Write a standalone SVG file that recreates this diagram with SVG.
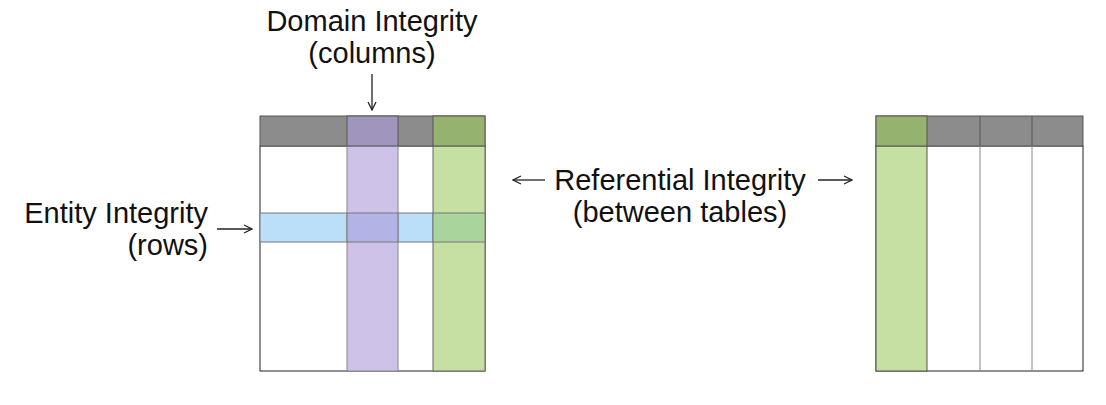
<svg xmlns="http://www.w3.org/2000/svg" width="1106" height="405" viewBox="0 0 1106 405">
<style>
text{font-family:"Liberation Sans",Arial,sans-serif;font-size:29px;fill:#111}
.ln{stroke:#222;stroke-width:1.3;fill:none}
.cl{stroke:#888;stroke-width:1}
</style>
<defs><marker id="a" viewBox="0 0 10 10" refX="9" refY="5" markerWidth="10" markerHeight="10" markerUnits="userSpaceOnUse" orient="auto"><path d="M1 1L9 5L1 9" fill="none" stroke="#222" stroke-width="1.3"/></marker></defs>
<rect width="1106" height="405" fill="#fff"/>
<g id="left-table">
<rect x="260" y="146" width="225" height="225" fill="#fff" stroke="#222"/>
<rect x="260" y="116" width="225" height="30" fill="#8c8c8c" stroke="#555"/>
<rect x="260" y="213" width="225" height="29" fill="#bbdef9" stroke="#777"/>
<rect x="347" y="146" width="51" height="225" fill="#cfc2e8" stroke="#888"/>
<rect x="347" y="116" width="51" height="30" fill="#a095bd" stroke="#555"/>
<rect x="347" y="213" width="51" height="29" fill="#b3b3e6" stroke="#777"/>
<rect x="433" y="146" width="52" height="225" fill="#c5e0a2" stroke="#666"/>
<rect x="433" y="116" width="52" height="30" fill="#95b26f" stroke="#555"/>
<rect x="433" y="213" width="52" height="29" fill="#a9d49b" stroke="#777"/>
</g>
<g id="right-table">
<rect x="876" y="146" width="207" height="225" fill="#fff" stroke="#222"/>
<rect x="876" y="116" width="207" height="30" fill="#8c8c8c" stroke="#555"/>
<rect x="876" y="146" width="51" height="225" fill="#c5e0a2" stroke="#555"/>
<rect x="876" y="116" width="51" height="30" fill="#95b26f" stroke="#555"/>
<line class="cl" x1="980" y1="146" x2="980" y2="371"/>
<line class="cl" x1="1032" y1="146" x2="1032" y2="371"/>
<line stroke="#555" x1="980" y1="116" x2="980" y2="146"/>
<line stroke="#555" x1="1032" y1="116" x2="1032" y2="146"/>
</g>
<g id="labels">
<text x="372" y="31" text-anchor="middle">Domain Integrity</text>
<text x="372" y="63" text-anchor="middle">(columns)</text>
<text x="208" y="223" text-anchor="end">Entity Integrity</text>
<text x="208" y="255" text-anchor="end">(rows)</text>
<text x="680" y="190" text-anchor="middle">Referential Integrity</text>
<text x="680" y="222" text-anchor="middle">(between tables)</text>
</g>
<g id="connectors">
<line class="ln" x1="372" y1="74" x2="372" y2="110" marker-end="url(#a)"/>
<line class="ln" x1="217" y1="229" x2="252" y2="229" marker-end="url(#a)"/>
<line class="ln" x1="545" y1="180" x2="513" y2="180" marker-end="url(#a)"/>
<line class="ln" x1="818" y1="180" x2="852" y2="180" marker-end="url(#a)"/>
</g>
</svg>
